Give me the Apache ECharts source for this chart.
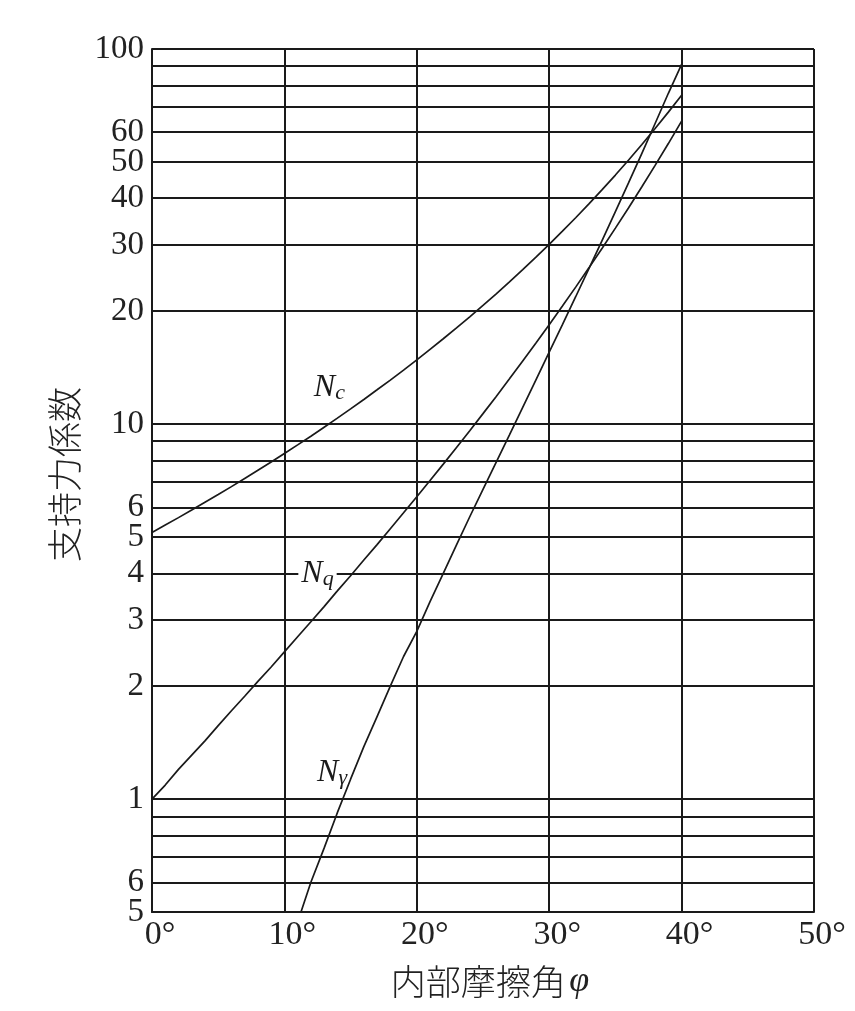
<!DOCTYPE html>
<html>
<head>
<meta charset="utf-8">
<script src="https://cdn.jsdelivr.net/npm/echarts@6/dist/echarts.min.js"></script>
<style>html,body{margin:0;padding:0;background:#fff;}#c{width:855px;height:1011px;}</style>
</head>
<body>
<div id="c"></div>
<script>
// internal friction angle (deg)
const phi = [0,1,2,3,4,5,6,7,8,9,10,11,12,13,14,15,16,17,18,19,20,21,22,23,24,25,26,27,28,29,30,31,32,33,34,35,36,37,38,39,40];
const Nc = [5.14,5.38,5.63,5.90,6.19,6.49,6.81,7.16,7.53,7.92,8.35,8.80,9.28,9.81,10.37,10.98,11.63,12.34,13.10,13.93,14.83,15.82,16.88,18.05,19.32,20.72,22.25,23.94,25.80,27.86,30.14,32.67,35.49,38.64,42.16,46.12,50.59,55.63,61.35,67.87,75.31];
const Nq = [1.00,1.09,1.20,1.31,1.43,1.57,1.72,1.88,2.06,2.25,2.47,2.71,2.97,3.26,3.59,3.94,4.34,4.77,5.26,5.80,6.40,7.07,7.82,8.66,9.60,10.66,11.85,13.20,14.72,16.44,18.40,20.63,23.18,26.09,29.44,33.30,37.75,42.92,48.93,55.96,64.20];
const phiG = [11,12,13,14,15,16,17,18,19,20,21,22,23,24,25,26,27,28,29,30,31,32,33,34,35,36,37,38,39,40];
const Ngamma = [0.47,0.60,0.74,0.92,1.13,1.38,1.66,2.00,2.40,2.80,3.36,4.00,4.76,5.66,6.70,7.92,9.36,11.08,13.12,15.55,18.40,21.85,25.95,30.90,36.85,44.00,52.70,63.30,76.20,91.00];
// horizontal grid values and tick labels
const yGrid = [0.5,0.6,0.7,0.8,0.9,1,2,3,4,5,6,7,8,9,10,20,30,40,50,60,70,80,90,100];
const yLabelValues = [0.5,0.6,1,2,3,4,5,6,10,20,30,40,50,60,100];
const yLabelTexts = ['5','6','1','2','3','4','5','6','10','20','30','40','50','60','100'];
const xTicks = [0,10,20,30,40,50];
// curve label anchors [phi, N]
const curveNames = ['c','q','γ'];
const labelAnchors = [[13.4,12.5],[12.5,4.0],[13.6,1.18]];

const INK = '#1a1a1a';
const TXT = '#222';
const serif = 'Liberation Serif, Times New Roman, serif';
const cjk = 'Noto Sans CJK JP';

const gridLines = yGrid.map(v => {
  const i = yLabelValues.indexOf(v);
  return {
    yAxis: v,
    label: i >= 0 ? {show: true, formatter: yLabelTexts[i]} : {show: false}
  };
});

function nameLabel(sub, bg) {
  return {
    show: true,
    position: 'inside',
    formatter: '{n|N}{s|' + sub + '}',
    backgroundColor: bg ? '#fff' : 'transparent',
    padding: [0, 3, 0, 3],
    rich: {
      n: {fontFamily: serif, fontStyle: 'italic', fontSize: 32, color: INK, lineHeight: 34, verticalAlign: 'middle'},
      s: {fontFamily: serif, fontStyle: 'italic', fontSize: 22, color: INK, lineHeight: 12, verticalAlign: 'bottom'}
    }
  };
}

const markPts = labelAnchors.map((p, i) => ({
  coord: p,
  symbol: 'rect',
  symbolSize: 1,
  itemStyle: {color: 'rgba(0,0,0,0)'},
  label: nameLabel(curveNames[i], i === 1)
}));

const lineStyle = {color: INK, width: 1.7};

const chart = echarts.init(document.getElementById('c'), null, {renderer: 'canvas'});
chart.setOption({
  animation: false,
  backgroundColor: '#fff',
  grid: {left: 152, right: 41, top: 49, bottom: 99},
  xAxis: {
    type: 'value', min: 0, max: 50, interval: 10,
    axisLine: {show: true, lineStyle: {color: INK, width: 2}},
    axisTick: {show: false},
    splitLine: {show: true, lineStyle: {color: INK, width: 2}},
    axisLabel: {
      formatter: function (v) { return xTicks.indexOf(v) >= 0 ? v + '°' : ''; },
      fontFamily: serif, fontSize: 34, color: TXT, margin: 6, padding: [0, 0, 0, 16]
    },
    name: '{a|内部摩擦角} {b|φ}',
    nameLocation: 'middle',
    nameGap: 52,
    nameTextStyle: {
      padding: [0, 0, 0, 14],
      rich: {
        a: {fontFamily: cjk, fontSize: 35, fontWeight: 300, color: TXT},
        b: {fontFamily: serif, fontStyle: 'italic', fontSize: 36, color: TXT}
      }
    }
  },
  yAxis: {
    type: 'log', logBase: 10, min: 0.5, max: 100,
    axisLine: {show: true, lineStyle: {color: INK, width: 2}},
    axisTick: {show: false},
    splitLine: {show: false},
    axisLabel: {show: false},
    name: '支持力係数',
    nameLocation: 'middle',
    nameGap: 70,
    nameTextStyle: {fontFamily: cjk, fontSize: 35, fontWeight: 300, color: TXT, padding: [0, 0, 0, 12]}
  },
  series: [
    {
      name: 'Nc', type: 'line', showSymbol: false, silent: true,
      data: phi.map((x, i) => [x, Nc[i]]),
      lineStyle: lineStyle, z: 5,
      markLine: {
        silent: true, symbol: ['none', 'none'], animation: false,
        lineStyle: {color: INK, width: 2, type: 'solid'},
        label: {position: 'start', distance: 8, fontFamily: serif, fontSize: 33, color: TXT},
        data: gridLines,
        z: 2
      },
      markPoint: {silent: true, data: markPts, z: 10}
    },
    {
      name: 'Nq', type: 'line', showSymbol: false, silent: true,
      data: phi.map((x, i) => [x, Nq[i]]),
      lineStyle: lineStyle, z: 5
    },
    {
      name: 'Nγ', type: 'line', showSymbol: false, silent: true,
      data: phiG.map((x, i) => [x, Ngamma[i]]),
      lineStyle: lineStyle, z: 5
    }
  ]
});
</script>
</body>
</html>
